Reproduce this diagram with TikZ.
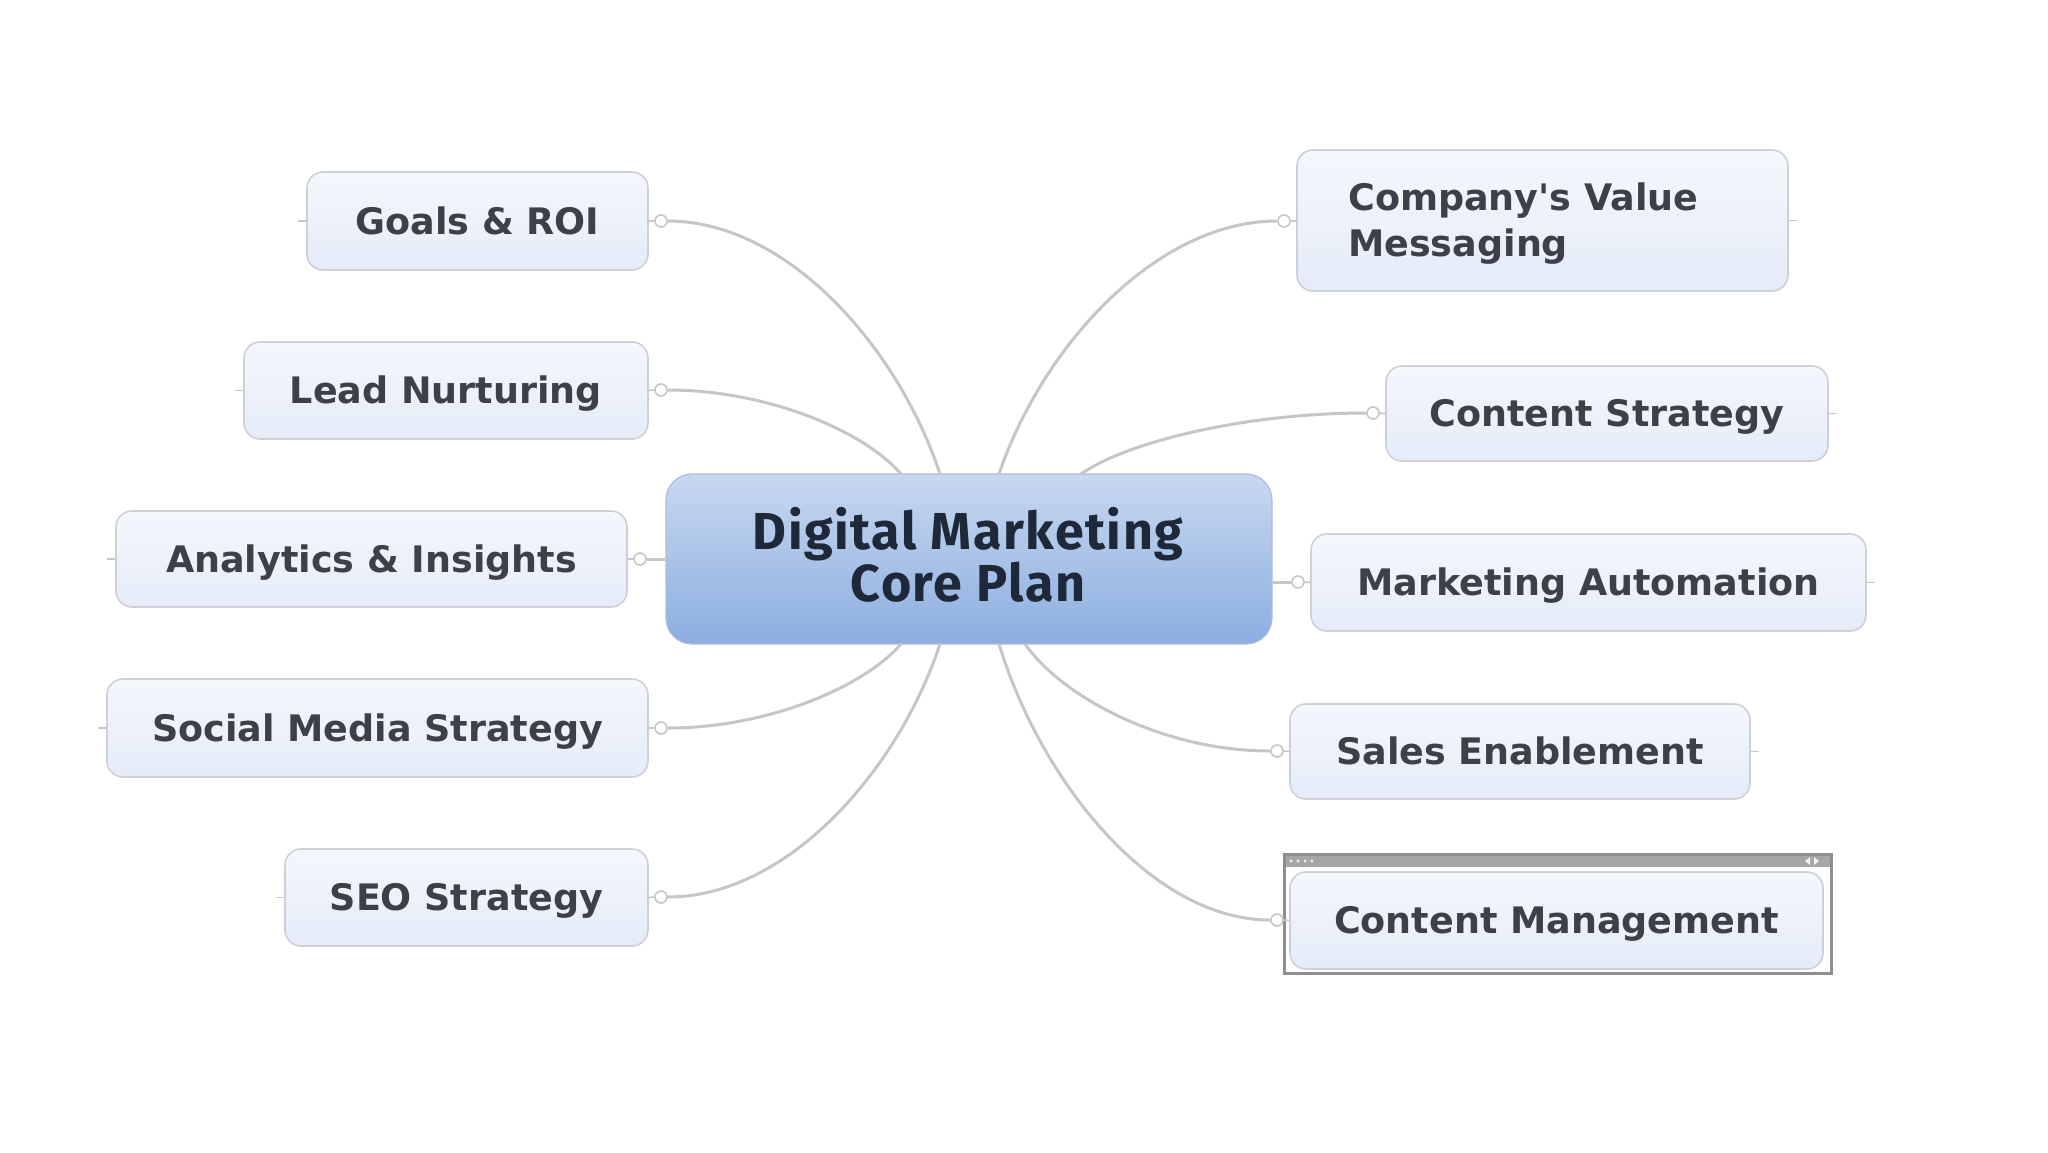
\documentclass[tikz,border=0pt]{standalone}
\usepackage{fontspec}
\setmainfont{DejaVu Sans}
\newfontfamily\corefont{Fira Sans}[LetterSpace=3]
\usetikzlibrary{calc}
\definecolor{boxtop}{HTML}{F4F7FC}
\definecolor{boxbot}{HTML}{E5ECF8}
\definecolor{boxline}{HTML}{CDD1D7}
\definecolor{txt}{HTML}{3B404B}
\definecolor{coretop}{HTML}{C8D8F0}
\definecolor{corebot}{HTML}{8BAEE0}
\definecolor{coreline}{HTML}{A8BEDF}
\definecolor{coretxt}{HTML}{1E2838}
\definecolor{linegray}{HTML}{C6C6C8}
\definecolor{framegray}{HTML}{8E8E8E}
\definecolor{bargray}{HTML}{A6A6A6}
\tikzset{
  topic/.style={draw=boxline, line width=1.6pt, rounded corners=16pt,
    top color=boxtop, bottom color=boxbot, inner sep=0pt,
    font=\fontsize{36.5pt}{46pt}\selectfont\bfseries, text=txt,
    text height=26.6pt, text depth=0pt},
  coretopic/.style={draw=coreline, line width=1.2pt, rounded corners=26pt,
    top color=coretop, bottom color=corebot, inner sep=0pt},
  coretext/.style={font=\corefont\fontsize{52pt}{54pt}\selectfont\bfseries,
    text=coretxt, inner sep=0pt, anchor=base},
  linetext/.style={font=\fontsize{36.5pt}{46pt}\selectfont\bfseries,
    text=txt, inner sep=0pt, anchor=base west},
  dot/.style={circle, draw=linegray, fill=white, line width=1.6pt,
    minimum size=12pt, inner sep=0pt},
  conn/.style={draw=linegray, line width=3pt},
  stub/.style={draw=linegray, line width=1.6pt},
}
\begin{document}
\begin{tikzpicture}[x=1pt, y=-1pt]
\useasboundingbox (0,0) rectangle (2048,1152);
\fill[white] (0,0) rectangle (2048,1152);

% ---- Content Management frame (behind its box)
\node[draw=framegray, line width=3pt, fill=white, minimum width=547pt,
  minimum height=119pt, inner sep=0pt] (cmframe) at (1557.5,913.5) {};
\fill[bargray] (1285.5,855.5) rectangle (1829.5,867);
\foreach \i in {0,1,2,3} \fill[white!85!bargray] (1291+\i*7,861) circle (1.6pt);
\fill[white!85!bargray] (1810,857) -- (1810,865) -- (1805,861) -- cycle;
\fill[white!85!bargray] (1814,857) -- (1814,865) -- (1819,861) -- cycle;

% ---- nodes
\node[coretopic, minimum width=606pt, minimum height=170pt] (core) at (969,559) {};
\node[coretext] (core1) at (968,549) {Digital Marketing};
\node[coretext] (core2) at (968,601) {Core Plan};

\node[topic, minimum width=341pt, minimum height=98pt] (goals) at (477.5,221) {Goals \& ROI};
\node[topic, minimum width=404pt, minimum height=97pt] (lead) at (446,390.5) {Lead Nurturing};
\node[topic, minimum width=511pt, minimum height=96pt] (anal) at (371.5,559) {Analytics \& Insights};
\node[topic, minimum width=541pt, minimum height=98pt] (social) at (377.5,728) {Social Media Strategy};
\node[topic, minimum width=363pt, minimum height=97pt] (seo) at (466.5,897.5) {SEO Strategy};

\node[topic, minimum width=491pt, minimum height=141pt] (company) at (1542.5,220.5) {};
\node[linetext] (company1) at (1348,210) {Company\textquotesingle s Value};
\node[linetext] (company2) at (1348,256) {Messaging};
\node[topic, minimum width=442pt, minimum height=95pt] (cstrat) at (1607,413.5) {Content Strategy};
\node[topic, minimum width=555pt, minimum height=97pt] (mauto) at (1588.5,582.5) {Marketing Automation};
\node[topic, minimum width=460pt, minimum height=95pt] (sales) at (1520,751.5) {Sales Enablement};
\node[topic, minimum width=533pt, minimum height=97pt] (cmgmt) at (1556.5,920.5) {Content Management};

% ---- connection dots
\node[dot] (goalsdot) at (661,221) {};
\node[dot] (leaddot) at (661,390) {};
\node[dot] (analdot) at (640,559) {};
\node[dot] (socialdot) at (661,728) {};
\node[dot] (seodot) at (661,897) {};
\node[dot] (companydot) at (1284,221) {};
\node[dot] (cstratdot) at (1373,413) {};
\node[dot] (mautodot) at (1298,582) {};
\node[dot] (salesdot) at (1277,751) {};
\node[dot] (cmgmtdot) at (1277,920) {};

% ---- attachment points on the core
\coordinate (cGoals) at (940,474);
\coordinate (cLead) at (901,474);
\coordinate (cCompany) at (999,474);
\coordinate (cCstrat) at (1081,474);
\coordinate (cSocial) at (901,644);
\coordinate (cSeo) at (940,644);
\coordinate (cCmgmt) at (999,644);
\coordinate (cSales) at (1025,644);

% ---- connectors
\path[conn] (goalsdot.east) .. controls (787,221) and (898,347) .. (cGoals);
\path[conn] (leaddot.east) .. controls (769,390) and (865,432) .. (cLead);
\path[conn] (analdot.east) -- (core.west |- analdot);
\path[conn] (socialdot.east) .. controls (769,728) and (865,686) .. (cSocial);
\path[conn] (seodot.east) .. controls (787,897) and (898,771) .. (cSeo);
\path[conn] (companydot.west) .. controls (1156,221) and (1042,347) .. (cCompany);
\path[conn] (cstratdot.west) .. controls (1242,413) and (1125,443) .. (cCstrat);
\path[conn] (core.east |- mautodot) -- (mautodot.west);
\path[conn] (salesdot.west) .. controls (1164,751) and (1063,698) .. (cSales);
\path[conn] (cmgmtdot.west) .. controls (1152,920) and (1041,782) .. (cCmgmt);

% ---- short links between boxes and dots
\path[stub] (goals.east) -- (goalsdot.west);
\path[stub] (lead.east) -- (leaddot.west);
\path[stub] (anal.east) -- (analdot.west);
\path[stub] (social.east) -- (socialdot.west);
\path[stub] (seo.east) -- (seodot.west);
\path[stub] (companydot.east) -- (company.west |- companydot);
\path[stub] (cstratdot.east) -- (cstrat.west);
\path[stub] (mautodot.east) -- (mauto.west);
\path[stub] (salesdot.east) -- (sales.west);
\path[stub] (cmgmtdot.east) -- (cmgmt.west);

% ---- outer stubs
\path[stub] (goals.west) -- ++(-8,0);
\path[stub] (lead.west) -- ++(-8,0);
\path[stub] (anal.west) -- ++(-8,0);
\path[stub] (social.west) -- ++(-8,0);
\path[stub] (seo.west) -- ++(-8,0);
\path[stub] (company.east) -- ++(8,0);
\path[stub] (cstrat.east) -- ++(8,0);
\path[stub] (mauto.east) -- ++(8,0);
\path[stub] (sales.east) -- ++(8,0);
\end{tikzpicture}
\end{document}
